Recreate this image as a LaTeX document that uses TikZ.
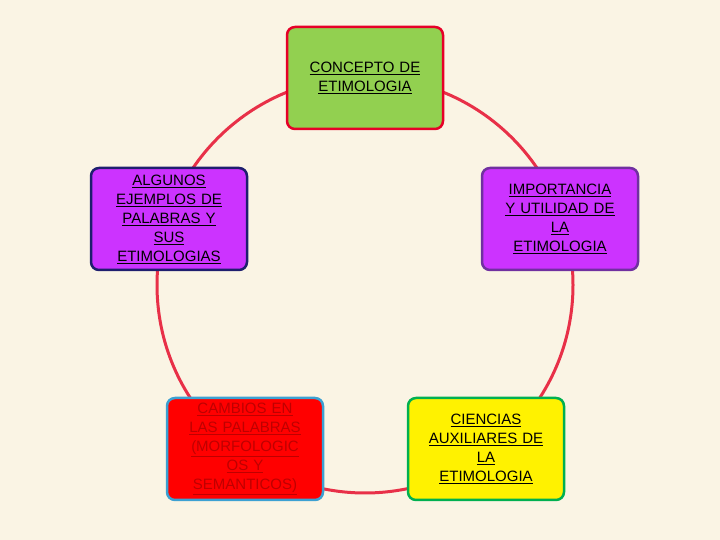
\documentclass[tikz,border=0pt]{standalone}
\usepackage{fontspec}
\setmainfont{Liberation Sans}
\newcommand\myul[1]{\underline{#1}}
\begin{document}
\begin{tikzpicture}[x=1pt,y=1pt,
  box/.style={rounded corners=8pt,line width=2.5pt,minimum width=156pt,minimum height=102pt,align=center,font=\fontsize{15}{19}\selectfont,text width=150pt,inner sep=1pt}]
\fill[color={rgb,255:red,250;green,244;blue,228}] (0,0) rectangle (720,540);
\useasboundingbox (0,0) rectangle (720,540);
\draw[color={rgb,255:red,232;green,48;blue,72},line width=3pt] (365,255) circle (208);
\node[box,draw={rgb,255:red,230;green,0;blue,40},fill={rgb,255:red,146;green,208;blue,80}] (a) at (365,462) {\myul{CONCEPTO DE}\\\myul{ETIMOLOGIA}};
\node[box,draw={rgb,255:red,30;green,30;blue,110},fill={rgb,255:red,204;green,51;blue,255}] (b) at (169,321) {\myul{ALGUNOS}\\\myul{EJEMPLOS DE}\\\myul{PALABRAS Y}\\\myul{SUS}\\\myul{ETIMOLOGIAS}};
\node[box,draw={rgb,255:red,112;green,48;blue,160},fill={rgb,255:red,204;green,51;blue,255}] (c) at (560,321) {\myul{IMPORTANCIA}\\\myul{Y UTILIDAD DE}\\\myul{LA}\\\myul{ETIMOLOGIA}};
\node[box,draw={rgb,255:red,60;green,160;blue,210},fill=red,text={rgb,255:red,190;green,0;blue,0}] (d) at (245,91) {\myul{CAMBIOS EN}\\\myul{LAS PALABRAS}\\\myul{(MORFOLOGIC}\\\myul{OS Y}\\\myul{SEMANTICOS)}};
\node[box,draw={rgb,255:red,0;green,176;blue,80},fill=yellow] (e) at (486,91) {\myul{CIENCIAS}\\\myul{AUXILIARES DE}\\\myul{LA}\\\myul{ETIMOLOGIA}};
\end{tikzpicture}
\end{document}
